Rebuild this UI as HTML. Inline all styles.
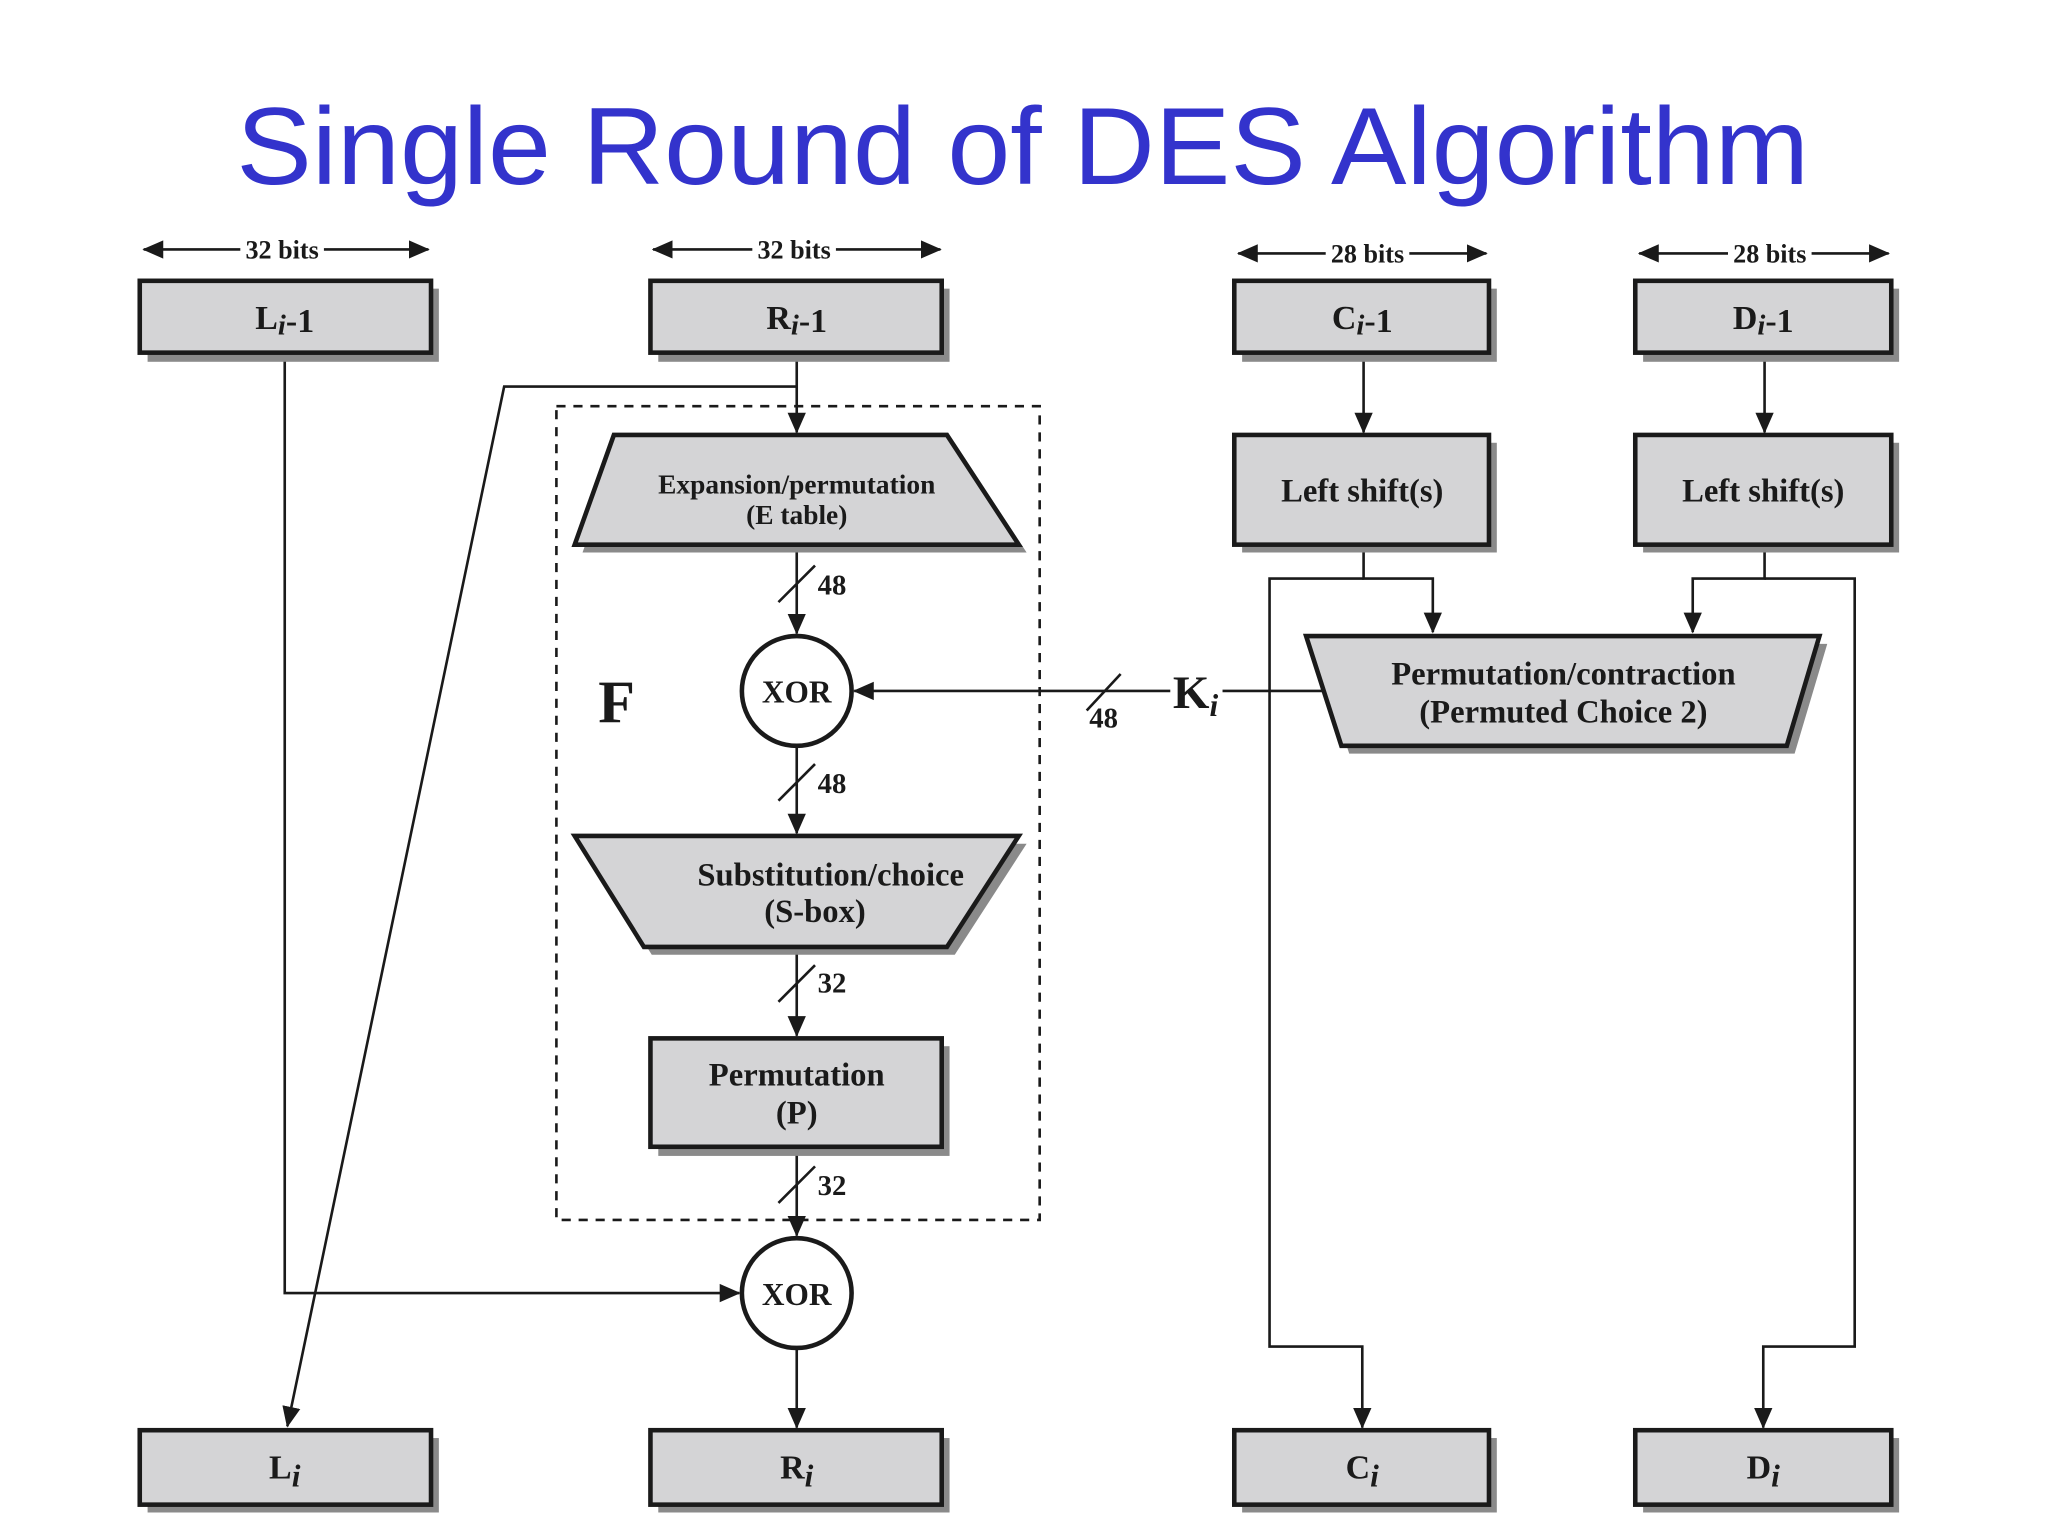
<!DOCTYPE html>
<html><head><meta charset="utf-8"><style>
html,body{margin:0;padding:0;background:#fff}
svg{display:block}
text{font-family:"Liberation Serif",serif;font-weight:bold;fill:#1a1a1a}
</style></head><body>
<svg width="2048" height="1536" viewBox="0 0 1568 1176" xmlns="http://www.w3.org/2000/svg">
<defs>
<marker id="b" markerWidth="16" markerHeight="16" refX="15" refY="8" orient="auto" markerUnits="userSpaceOnUse" viewBox="0 0 16 16"><path d="M0,1 L16,8 L0,15 z" fill="#1a1a1a"/></marker>
<marker id="bs" markerWidth="16" markerHeight="16" refX="1" refY="8" orient="auto" markerUnits="userSpaceOnUse" viewBox="0 0 16 16"><path d="M16,1 L0,8 L16,15 z" fill="#1a1a1a"/></marker>
</defs>
<rect width="1568" height="1176" fill="#fff"/>
<text x="181" y="141" textLength="1204" lengthAdjust="spacingAndGlyphs" style="font-family:'Liberation Sans',sans-serif;font-weight:normal;fill:#3333cc" font-size="84">Single Round of DES Algorithm</text>

<g stroke="#1a1a1a" stroke-width="2" fill="none">
<line x1="110" y1="191" x2="184" y2="191" marker-start="url(#bs)"/><line x1="248" y1="191" x2="328" y2="191" marker-end="url(#b)"/>
<line x1="500" y1="191" x2="576" y2="191" marker-start="url(#bs)"/><line x1="640" y1="191" x2="720" y2="191" marker-end="url(#b)"/>
<line x1="948" y1="194" x2="1015" y2="194" marker-start="url(#bs)"/><line x1="1079" y1="194" x2="1138" y2="194" marker-end="url(#b)"/>
<line x1="1255" y1="194" x2="1323" y2="194" marker-start="url(#bs)"/><line x1="1387" y1="194" x2="1446" y2="194" marker-end="url(#b)"/>
</g>
<g font-size="20" text-anchor="middle">
<text x="216" y="198">32 bits</text><text x="608" y="198">32 bits</text>
<text x="1047" y="201">28 bits</text><text x="1355" y="201">28 bits</text>
</g>

<g stroke="#1a1a1a" stroke-width="2" fill="none">
<polyline points="218,272 218,990 566,990" marker-end="url(#b)"/>
<line x1="610" y1="272" x2="610" y2="331" marker-end="url(#b)"/>
<polyline points="610,296 386,296 220,1092" marker-end="url(#b)"/>
<line x1="610" y1="419" x2="610" y2="485" marker-end="url(#b)"/>
<line x1="610" y1="571" x2="610" y2="638" marker-end="url(#b)"/>
<line x1="610" y1="727" x2="610" y2="793" marker-end="url(#b)"/>
<line x1="610" y1="880" x2="610" y2="946" marker-end="url(#b)"/>
<line x1="610" y1="1032" x2="610" y2="1093" marker-end="url(#b)"/>
<line x1="1013" y1="529" x2="654" y2="529" marker-end="url(#b)"/>
<line x1="1044" y1="272" x2="1044" y2="331" marker-end="url(#b)"/>
<line x1="1351" y1="272" x2="1351" y2="331" marker-end="url(#b)"/>
<polyline points="1044,419 1044,443 1097,443 1097,484" marker-end="url(#b)"/>
<polyline points="1044,443 972,443 972,1031 1043,1031 1043,1093" marker-end="url(#b)"/>
<polyline points="1351,419 1351,443 1296,443 1296,484" marker-end="url(#b)"/>
<polyline points="1351,443 1420,443 1420,1031 1350,1031 1350,1093" marker-end="url(#b)"/>
<line x1="596" y1="461" x2="624" y2="433"/>
<line x1="596" y1="613" x2="624" y2="585"/>
<line x1="596" y1="767" x2="624" y2="739"/>
<line x1="596" y1="921" x2="624" y2="893"/>
<line x1="832" y1="544" x2="858" y2="516"/>
</g>
<rect x="426" y="311" width="370" height="623" fill="none" stroke="#1a1a1a" stroke-width="2" stroke-dasharray="7,6"/>
<rect x="896" y="510" width="40" height="38" fill="#fff"/>
<g font-size="22">
<text x="626" y="455">48</text><text x="626" y="607">48</text>
<text x="626" y="760">32</text><text x="626" y="915">32</text>
<text x="834" y="557">48</text>
</g>
<text x="898" y="542" font-size="36">K<tspan font-style="italic" font-size="24" dy="6">i</tspan></text>
<text x="458" y="553" font-size="46">F</text>

<g fill="#8a8a8a">
<rect x="113" y="221" width="223" height="56"/><rect x="504" y="221" width="223" height="56"/>
<rect x="951" y="221" width="195" height="56"/><rect x="1258" y="221" width="196" height="56"/>
<rect x="951" y="339" width="195" height="84"/><rect x="1258" y="339" width="196" height="84"/>
<rect x="504" y="801" width="223" height="84"/>
<rect x="113" y="1101" width="223" height="57"/><rect x="504" y="1101" width="223" height="57"/>
<rect x="951" y="1101" width="195" height="57"/><rect x="1258" y="1101" width="196" height="57"/>
<polygon points="476,339 731,339 786,423 446,423"/>
<polygon points="446,646 786,646 731,731 499,731"/>
<polygon points="1006,493 1399,493 1374,577 1033,577"/>
</g>
<g fill="#d4d4d6" stroke="#1a1a1a" stroke-width="3.5">
<rect x="107" y="215" width="223" height="55"/><rect x="498" y="215" width="223" height="55"/>
<rect x="945" y="215" width="195" height="55"/><rect x="1252" y="215" width="196" height="55"/>
<rect x="945" y="333" width="195" height="84"/><rect x="1252" y="333" width="196" height="84"/>
<rect x="498" y="795" width="223" height="83"/>
<rect x="107" y="1095" width="223" height="57"/><rect x="498" y="1095" width="223" height="57"/>
<rect x="945" y="1095" width="195" height="57"/><rect x="1252" y="1095" width="196" height="57"/>
<polygon points="470,333 725,333 780,417 440,417"/>
<polygon points="440,640 780,640 725,725 493,725"/>
<polygon points="1000,487 1393,487 1368,571 1027,571"/>
</g>
<g fill="#fff" stroke="#1a1a1a" stroke-width="3.5">
<circle cx="610" cy="529" r="42"/><circle cx="610" cy="990" r="42"/>
</g>
<g text-anchor="middle" font-size="24">
<text x="610" y="538">XOR</text><text x="610" y="999">XOR</text>
<text x="218" y="252" font-size="26">L<tspan font-style="italic" font-size="22" dy="4">i</tspan><tspan dy="-2">-1</tspan></text>
<text x="610" y="252" font-size="26">R<tspan font-style="italic" font-size="22" dy="4">i</tspan><tspan dy="-2">-1</tspan></text>
<text x="1043" y="252" font-size="26">C<tspan font-style="italic" font-size="22" dy="4">i</tspan><tspan dy="-2">-1</tspan></text>
<text x="1350" y="252" font-size="26">D<tspan font-style="italic" font-size="22" dy="4">i</tspan><tspan dy="-2">-1</tspan></text>
<text x="1043" y="384" font-size="25">Left shift(s)</text>
<text x="1350" y="384" font-size="25">Left shift(s)</text>
<text x="610" y="378" font-size="21">Expansion/permutation</text>
<text x="610" y="401" font-size="21">(E table)</text>
<text x="636" y="678" font-size="25">Substitution/choice</text>
<text x="624" y="706" font-size="25">(S-box)</text>
<text x="610" y="831" font-size="25">Permutation</text>
<text x="610" y="860" font-size="25">(P)</text>
<text x="1197" y="524" font-size="25">Permutation/contraction</text>
<text x="1197" y="553" font-size="25">(Permuted Choice 2)</text>
<text x="218" y="1132" font-size="26">L<tspan font-style="italic" font-size="24" dy="6">i</tspan></text>
<text x="610" y="1132" font-size="26">R<tspan font-style="italic" font-size="24" dy="6">i</tspan></text>
<text x="1043" y="1132" font-size="26">C<tspan font-style="italic" font-size="24" dy="6">i</tspan></text>
<text x="1350" y="1132" font-size="26">D<tspan font-style="italic" font-size="24" dy="6">i</tspan></text>
</g>
</svg>
</body></html>
